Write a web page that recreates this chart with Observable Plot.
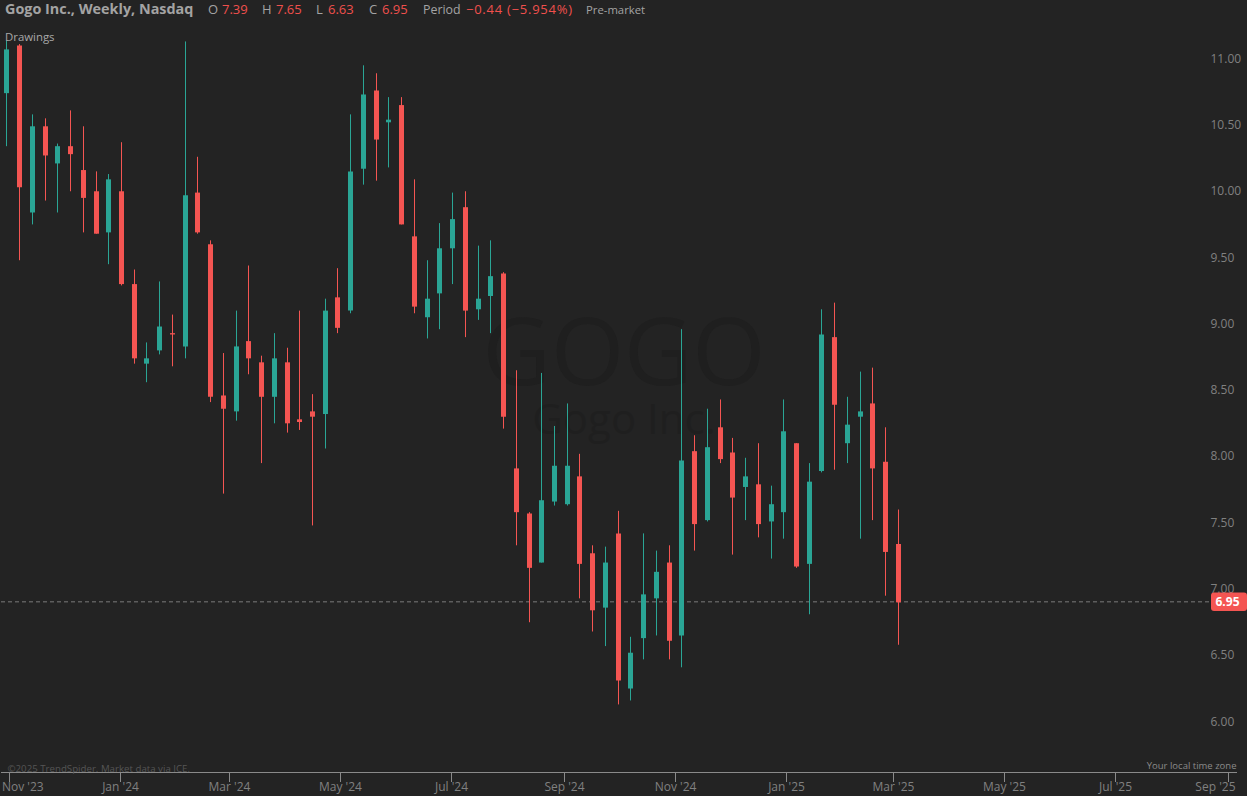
<!DOCTYPE html>
<html>
<head>
<meta charset="utf-8">
<script src="https://cdn.jsdelivr.net/npm/d3@7"></script>
<script src="https://cdn.jsdelivr.net/npm/@observablehq/plot@0.6"></script>
<style>
html,body{margin:0;padding:0;background:#232323;overflow:hidden}
#head{position:relative;height:24px;font:13px "Open Sans",sans-serif;color:#a3a3a3;white-space:nowrap;line-height:17px}
#head span{position:absolute;top:1px}
#head .b{font-weight:700;font-size:14.4px;top:0}
#head .r{color:#f0504d}
#head .d{letter-spacing:.75px}
#head .s{font-size:12.4px}
#head .p{font-size:11.3px}
</style>
</head>
<body>
<div id="head"></div>
<div id="chart"></div>
<script>
const weeks = ["2023-10-30","2023-11-06","2023-11-13","2023-11-20","2023-11-27","2023-12-04","2023-12-11","2023-12-18","2023-12-25","2024-01-01","2024-01-08","2024-01-15","2024-01-22","2024-01-29","2024-02-05","2024-02-12","2024-02-19","2024-02-26","2024-03-04","2024-03-11","2024-03-18","2024-03-25","2024-04-01","2024-04-08","2024-04-15","2024-04-22","2024-04-29","2024-05-06","2024-05-13","2024-05-20","2024-05-27","2024-06-03","2024-06-10","2024-06-17","2024-06-24","2024-07-01","2024-07-08","2024-07-15","2024-07-22","2024-07-29","2024-08-05","2024-08-12","2024-08-19","2024-08-26","2024-09-02","2024-09-09","2024-09-16","2024-09-23","2024-09-30","2024-10-07","2024-10-14","2024-10-21","2024-10-28","2024-11-04","2024-11-11","2024-11-18","2024-11-25","2024-12-02","2024-12-09","2024-12-16","2024-12-23","2024-12-30","2025-01-06","2025-01-13","2025-01-20","2025-01-27","2025-02-03","2025-02-10","2025-02-17","2025-02-24","2025-03-03"];
const opens = [10.79,11.15,9.89,10.54,10.26,10.39,10.21,10.05,9.74,10.05,9.35,8.75,8.85,8.98,8.88,10.04,9.65,8.51,8.39,8.92,8.76,8.50,8.76,8.33,8.39,8.37,9.25,9.15,10.22,10.81,10.57,10.70,9.71,9.10,9.28,9.62,9.93,9.16,9.26,9.43,7.96,7.62,7.25,7.71,7.69,7.90,7.32,6.91,7.47,6.30,6.68,6.98,7.25,6.70,8.09,7.57,8.27,8.08,7.82,7.84,7.56,7.63,8.15,7.24,7.94,8.95,8.15,8.35,8.45,8.01,7.39];
const highs = [11.19,11.16,10.63,10.60,10.41,10.66,10.54,10.20,10.18,10.42,9.46,8.91,9.37,9.12,11.18,10.31,9.68,8.83,9.15,9.49,8.81,8.98,8.87,9.15,8.52,9.24,9.47,10.63,11.00,10.94,10.76,10.76,10.14,9.53,9.81,10.04,10.05,9.64,9.68,9.44,8.70,7.63,8.68,8.28,8.45,8.07,7.38,7.37,7.64,6.69,7.47,7.34,7.38,9.01,8.21,8.41,8.48,8.19,8.04,8.15,7.83,8.48,8.15,8.00,9.16,9.21,8.50,8.69,8.72,8.27,7.65];
const lows = [10.39,9.53,9.80,9.98,9.89,10.05,9.74,9.73,9.50,9.34,8.75,8.61,8.82,8.73,8.79,9.73,8.46,7.77,8.32,8.67,8.00,8.30,8.23,8.25,7.53,8.11,8.98,9.13,10.10,10.13,10.23,9.80,9.13,8.94,9.01,9.35,8.95,9.08,8.98,8.26,7.38,6.80,7.25,7.68,7.68,6.98,6.73,6.62,6.18,6.21,6.52,6.70,6.52,6.46,7.34,7.56,8.00,7.31,7.57,7.44,7.28,7.43,7.21,6.86,7.93,7.95,8.00,7.43,7.57,7.00,6.63];
const closes = [11.12,10.08,10.54,10.32,10.39,10.33,10.00,9.73,10.14,9.35,8.79,8.79,9.03,8.97,10.02,9.74,8.50,8.41,8.88,8.79,8.50,8.79,8.30,8.31,8.35,9.15,9.02,10.20,10.78,10.44,10.59,9.80,9.18,9.24,9.62,9.84,9.15,9.24,9.41,8.35,7.63,7.21,7.72,7.98,7.98,7.24,6.89,7.25,6.36,6.57,7.01,7.18,6.66,8.02,7.54,8.12,8.03,7.74,7.90,7.54,7.69,8.24,7.22,7.86,8.97,8.44,8.29,8.39,7.96,7.33,6.95];
const priceTicks = [6,6.5,7,7.5,8,8.5,9,9.5,10,10.5,11];
const monthTicks = ["2023-11-01","2024-01-01","2024-03-01","2024-05-01","2024-07-01","2024-09-01","2024-11-01","2025-01-01","2025-03-01","2025-05-01","2025-07-01","2025-09-01"];
const monthLabels = ["Nov '23","Jan '24","Mar '24","May '24","Jul '24","Sep '24","Nov '24","Jan '25","Mar '25","May '25","Jul '25","Sep '25"];
const lastClose = 6.95;
const headerParts = [["b","Gogo Inc., Weekly, Nasdaq",5],["","O",208],["r","7.39",222],["","H",262],["r","7.65",276],["","L",316],["r","6.63",328],["","C",369],["r","6.95",382],["s","Period",423],["r d","\u22120.44 (\u22125.954%)",466],["p","Pre-market",586]];

const GREEN = "#2aa595", RED = "#f45552", BG = "#232323", FONT = '"Open Sans", sans-serif';
const toDate = s => new Date(s + "T00:00:00Z");
const candles = weeks.map((w,i)=>({date:toDate(w),open:opens[i],high:highs[i],low:lows[i],close:closes[i]}));
const colorOf = d => d.close >= d.open ? GREEN : RED;
const months = monthTicks.map((m,i)=>({date:toDate(m),label:monthLabels[i]}));

const head = document.getElementById("head");
for (const [k,t,left] of headerParts){
  const e = document.createElement("span");
  e.textContent = t;
  e.className = k;
  e.style.left = left+"px";
  head.appendChild(e);
}

const H = 772, TOP = 24;
const chart = Plot.plot({
  width:1247, height:H, marginTop:0, marginBottom:24, marginLeft:1, marginRight:11,
  style:{background:BG, fontFamily:FONT, display:"block"},
  x:{type:"utc", domain:[toDate(monthTicks[0]),toDate(monthTicks[11])], range:[10,1229], round:true},
  y:{domain:[6,11], range:[728.3-TOP,65.3-TOP]},
  marks:[
    Plot.text(["GOGO"],{frameAnchor:"middle",dx:5,dy:-44,fontSize:94,fill:"#1f1f1f",fontWeight:400,letterSpacing:"2px"}),
    Plot.text(["Gogo Inc."],{frameAnchor:"middle",dx:5,dy:22,fontSize:42,fill:"#1f1f1f",fontWeight:400}),
    Plot.ruleY([lastClose],{stroke:"#7b7b7b",strokeDasharray:"4 3",dy:-1}),
    Plot.ruleX(candles,{x:"date",y1:"low",y2:"high",stroke:colorOf,strokeWidth:1}),
    Plot.ruleX(candles,{x:"date",y1:"open",y2:"close",stroke:colorOf,strokeWidth:5}),
    Plot.frame({anchor:"bottom",stroke:"#8a8a8a"}),
    Plot.axisX({ticks:months.map(d=>d.date),tickSize:10,stroke:"#8a8a8a",tickFormat:()=>"",dx:-1}),
    Plot.text(months.slice(1,-1),{x:"date",text:"label",frameAnchor:"bottom",dy:15,dx:-1,fill:"#808080",fontSize:12,lineAnchor:"middle"}),
    Plot.text(months.slice(0,1),{x:"date",text:"label",frameAnchor:"bottom",dy:15,dx:-8.5,textAnchor:"start",fill:"#808080",fontSize:12,lineAnchor:"middle"}),
    Plot.text(months.slice(-1),{x:"date",text:"label",frameAnchor:"bottom",dy:15,dx:6,textAnchor:"end",fill:"#808080",fontSize:12,lineAnchor:"middle"}),
    Plot.axisY({ticks:priceTicks,anchor:"right",tickSize:0,tickPadding:-26,tickFormat:d3.format(".2f"),fill:"#808080",fontSize:12,dy:-7}),
    Plot.rect([lastClose],{x1:()=>toDate("2025-08-22"),x2:()=>toDate("2025-09-11"),y1:d=>d-0.07,y2:d=>d+0.07,fill:"#f45552",rx:3,dy:-0.5}),
    Plot.text([lastClose],{y:d=>d,text:d3.format(".2f"),frameAnchor:"right",dx:3,dy:-0.5,fill:"#fff",fontWeight:700,fontSize:12,textAnchor:"end"}),
    Plot.text(["Drawings"],{frameAnchor:"top-left",dx:3.5,dy:12.5,lineAnchor:"middle",fill:"#a8a8a8",fontSize:11.4}),
    Plot.text(["\u00a92025 TrendSpider. Market data via ICE."],{frameAnchor:"bottom-left",dx:6,dy:-4,lineAnchor:"middle",fill:"#555",fontSize:9.7}),
    Plot.text(["Your local time zone"],{frameAnchor:"bottom-right",dy:-7,lineAnchor:"middle",fill:"#8a8a8a",fontSize:9.5})
  ]
});
document.getElementById("chart").appendChild(chart);
</script>
</body>
</html>
